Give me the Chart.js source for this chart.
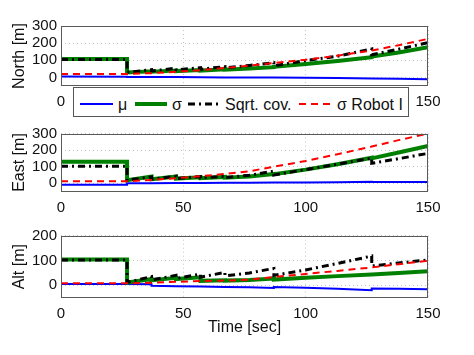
<!DOCTYPE html>
<html>
<head>
<meta charset="utf-8">
<script src="https://cdn.jsdelivr.net/npm/chart.js@4.4.0/dist/chart.umd.min.js"></script>
<style>
  body { margin: 0; background: #fff; width: 474px; height: 355px; overflow: hidden; position: relative; }
  canvas { position: absolute; left: 0; }
  #legend { position: absolute; left: 73px; top: 87px; }
  #legend text { font-family: "Liberation Sans", Arial, sans-serif; font-size: 16px; fill: #111; }
</style>
</head>
<body>
<canvas id="north" width="474" height="110" style="top:0px"></canvas>
<canvas id="east" width="474" height="108" style="top:112px"></canvas>
<canvas id="alt" width="474" height="115" style="top:222px"></canvas>

<svg id="legend" width="337" height="31">
  <rect x="0.5" y="0.5" width="335" height="29" fill="#fff" stroke="#555" stroke-width="1"></rect>
  <line x1="7" y1="17" x2="40" y2="17" stroke="#0000ff" stroke-width="2"></line>
  <text x="45" y="22.5">μ</text>
  <line x1="62" y1="17" x2="94" y2="17" stroke="#008000" stroke-width="4"></line>
  <text x="99" y="22.5">σ</text>
  <line x1="115" y1="17" x2="147" y2="17" stroke="#000" stroke-width="3" stroke-dasharray="7,4,2,4"></line>
  <text x="152" y="22.5">Sqrt. cov.</text>
  <line x1="226" y1="17" x2="260" y2="17" stroke="#ff0000" stroke-width="2" stroke-dasharray="7,5"></line>
  <text x="264" y="22.5">σ Robot I</text>
</svg>

<script>
// Shared time grid (repeated times mark the jumps at measurement updates)
const timeSec = [0, 27, 27, 37, 37, 47, 47, 57, 57, 67, 67, 77, 87, 87, 100, 113, 127, 127, 138, 150];
const xTicks = [0, 50, 100, 150];

// North [m]
const northMu      = [5, 4, 3, 3, 3, 2, 2, 1, 1, 0, 0, 0, -1, -1, -2, -4, -6, -6, -8, -11];
const northSigma   = [107, 107, 29, 36, 33, 40, 37, 43, 40, 47, 45, 52, 60, 62, 78, 96, 118, 122, 146, 176];
const northSqrtCov = [104, 104, 30, 45, 37, 54, 44, 57, 48, 63, 55, 70, 86, 67, 99, 124, 166, 132, 165, 203];
const northRobot   = [20, 20, 20, 25, 25, 33, 33, 42, 42, 55, 55, 69, 84, 84, 103, 127, 157, 157, 188, 225];
const northTicks = [0, 100, 200, 300];

// East [m]
const eastMu      = [-10, -10, 0, 0, 0, 1, 1, 2, 2, 3, 3, 3, 4, 4, 5, 6, 9, 8, 8, 8];
const eastSigma   = [130, 130, 18, 40, 24, 40, 28, 36, 30, 38, 33, 40, 56, 54, 82, 115, 154, 150, 185, 225];
const eastSqrtCov = [103, 103, 18, 38, 25, 42, 28, 40, 32, 42, 34, 48, 73, 50, 82, 115, 152, 120, 148, 180];
const eastRobot   = [12, 12, 12, 20, 20, 30, 30, 42, 42, 56, 56, 72, 100, 100, 134, 175, 221, 221, 260, 300];
const eastTicks = [0, 100, 200, 300];

// Alt [m]
const altMu      = [5, 5, 5, 4, -2, -4, -4, -5, -5, -7, -7, -8, -11, -7, -10, -14, -20, -13, -14, -16];
const altSigma   = [104, 104, 11, 25, 20, 30, 25, 32, 18, 20, 19, 21, 27, 23, 30, 37, 44, 44, 50, 57];
const altSqrtCov = [102, 102, 12, 35, 22, 40, 28, 45, 33, 52, 38, 50, 68, 40, 62, 88, 118, 78, 90, 102];
const altRobot   = [8, 8, 8, 10, 10, 14, 14, 17, 17, 19, 19, 23, 33, 33, 46, 58, 72, 72, 85, 99];
const altTicks = [0, 100, 200];

const FONT = '"Liberation Sans", Arial, sans-serif';

// draws the full axes box like matlab does
const boxPlugin = {
  id: 'box',
  afterDraw(chart) {
    const a = chart.chartArea;
    const ctx = chart.ctx;
    ctx.save();
    ctx.strokeStyle = '#5a5a5a';
    ctx.lineWidth = 1;
    ctx.strokeRect(Math.round(a.left) + 0.5, Math.round(a.top) + 0.5,
                   Math.round(a.right - a.left) - 1, Math.round(a.bottom - a.top) - 1);
    ctx.restore();
  }
};

function toPoints(vals) {
  return vals.map((v, i) => ({ x: timeSec[i], y: v }));
}

function makePanel(id, yLabel, yMin, yMax, yTicks, series, padTop, xHeight, xTitle) {
  const ctx = document.getElementById(id).getContext('2d');
  return new Chart(ctx, {
    type: 'line',
    data: {
      datasets: [
        { data: toPoints(series[0]), borderColor: '#0000ff', borderWidth: 2, order: 3 },
        { data: toPoints(series[1]), borderColor: '#008000', borderWidth: 4, order: 2 },
        { data: toPoints(series[2]), borderColor: '#000000', borderWidth: 3, borderDash: [7, 4, 2, 4], order: 1 },
        { data: toPoints(series[3]), borderColor: '#ff0000', borderWidth: 2, borderDash: [7, 5], order: 0 }
      ]
    },
    options: {
      responsive: false,
      animation: false,
      devicePixelRatio: 1,
      elements: { point: { radius: 0 }, line: { tension: 0, fill: false } },
      layout: { padding: { top: padTop, right: 46, left: 0, bottom: 0 } },
      plugins: { legend: { display: false }, tooltip: { enabled: false } },
      scales: {
        x: {
          type: 'linear', min: 0, max: 150,
          afterBuildTicks: s => { s.ticks = xTicks.map(v => ({ value: v })); },
          afterFit: s => { s.height = xHeight; },
          grid: { color: '#c4c4c4', drawTicks: false },
          border: { display: false, dash: [1, 3] },
          ticks: { padding: 7, color: '#111', autoSkip: false, font: { family: FONT, size: 15 }, maxRotation: 0 },
          title: { display: !!xTitle, text: xTitle || '', color: '#111',
                   font: { family: FONT, size: 16 }, padding: { top: 0, bottom: 0 } }
        },
        y: {
          min: yMin, max: yMax,
          afterBuildTicks: s => { s.ticks = yTicks.map(v => ({ value: v })); },
          afterFit: s => { s.width = 61; },
          grid: { color: '#c4c4c4', drawTicks: false },
          border: { display: false, dash: [1, 3] },
          ticks: { padding: 4, color: '#111', autoSkip: false, font: { family: FONT, size: 15 } },
          title: { display: true, text: yLabel, color: '#111',
                   font: { family: FONT, size: 16 }, padding: { top: 10, bottom: 0 } }
        }
      }
    },
    plugins: [boxPlugin]
  });
}

makePanel('north', 'North [m]', -50, 300, northTicks,
  [northMu, northSigma, northSqrtCov, northRobot], 26, 24, null);
makePanel('east', 'East [m]', -50, 300, eastTicks,
  [eastMu, eastSigma, eastSqrtCov, eastRobot], 21.5, 28.5, null);
makePanel('alt', 'Alt [m]', -50, 200, altTicks,
  [altMu, altSigma, altSqrtCov, altRobot], 13.7, 39.3, 'Time [sec]');
</script>
</body>
</html>
